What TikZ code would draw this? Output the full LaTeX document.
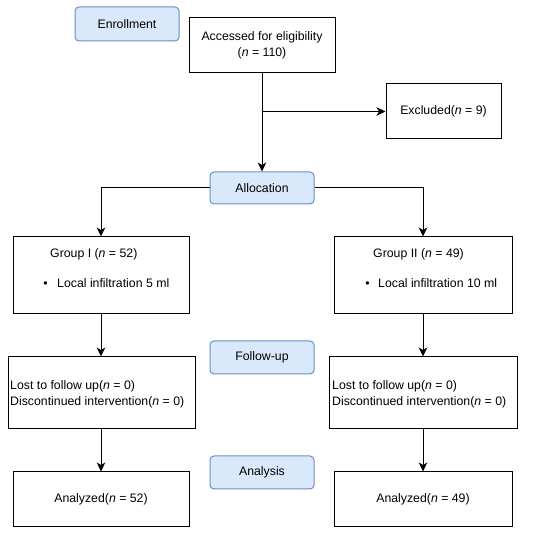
\documentclass[tikz,border=0pt]{standalone}
\usepackage{fontspec}
\setmainfont{Liberation Sans}
\usetikzlibrary{arrows.meta}
\definecolor{phasefill}{HTML}{DAE8FC}
\definecolor{phasedraw}{HTML}{6C8EBF}
\tikzset{
  box/.style={draw=black, line width=1pt, inner sep=0pt, align=center},
  phase/.style={draw=phasedraw, fill=phasefill, line width=1pt, rounded corners=4pt, inner sep=0pt, minimum width=104pt, align=center},
  arr/.style={draw=black, line width=1pt, -{Stealth[length=9pt,width=8.5pt,inset=2.5pt]}},
  lbl/.style={inner sep=0pt, anchor=west, align=left},
}
\begin{document}
\begin{tikzpicture}[x=1pt,y=-1pt,font=\fontsize{12.3}{16}\selectfont]
\useasboundingbox (0,0) rectangle (550,534);
\node[phase, minimum height=34pt] (enr) at (127,24) {Enrollment};
\node[box, minimum width=146pt, minimum height=55pt] (acc) at (262,45.5) {Accessed for eligibility\\(\textit{n} = 110)};
\node[box, minimum width=115pt, minimum height=55pt] (exc) at (443.5,111.5) {Excluded(\textit{n} = 9)};
\node[phase, minimum height=32pt] (alloc) at (262,188) {Allocation};
\node[box, minimum width=176pt, minimum height=77pt] (g1) at (101,275.5) {};
\node[box, minimum width=178pt, minimum height=77pt] (g2) at (423,275.5) {};
\node[lbl] (g1t) at (50,254) {Group I (\textit{n} = 52)};
\node[inner sep=0pt] (g1b) at (45.5,284.5) {•};
\node[lbl] (g1i) at (57,283) {Local infiltration 5 ml};
\node[lbl] (g2t) at (373,254) {Group II (\textit{n} = 49)};
\node[inner sep=0pt] (g2b) at (367.5,284.5) {•};
\node[lbl] (g2i) at (378,283) {Local infiltration 10 ml};
\node[phase, minimum height=33pt] (fol) at (262,357.5) {Follow-up};
\node[box, minimum width=187pt, minimum height=72pt] (l1) at (101.5,393) {};
\node[box, minimum width=188pt, minimum height=72pt] (l2) at (423,393) {};
\node[lbl] (l1t) at (10,394) {Lost to follow up(\textit{n} = 0)\\Discontinued intervention(\textit{n} = 0)};
\node[lbl] (l2t) at (332,394) {Lost to follow up(\textit{n} = 0)\\Discontinued intervention(\textit{n} = 0)};
\node[phase, minimum height=33pt] (ana) at (262,472.5) {Analysis};
\node[box, minimum width=176pt, minimum height=55pt] (a1) at (101,499.5) {Analyzed(\textit{n} = 52)};
\node[box, minimum width=178pt, minimum height=55pt] (a2) at (423,499.5) {Analyzed(\textit{n} = 49)};
\draw[arr] (acc.south) -- (alloc.north);
\draw[arr] (acc.south |- exc.west) -- (exc.west);
\draw[arr] (alloc.west) -| (g1.north);
\draw[arr] (alloc.east) -| (g2.north);
\draw[arr] (g1.south) -- (g1.south |- l1.north);
\draw[arr] (g2.south) -- (g2.south |- l2.north);
\draw[arr] (g1.south |- l1.south) -- (a1.north);
\draw[arr] (l2.south) -- (a2.north);
\end{tikzpicture}
\end{document}
